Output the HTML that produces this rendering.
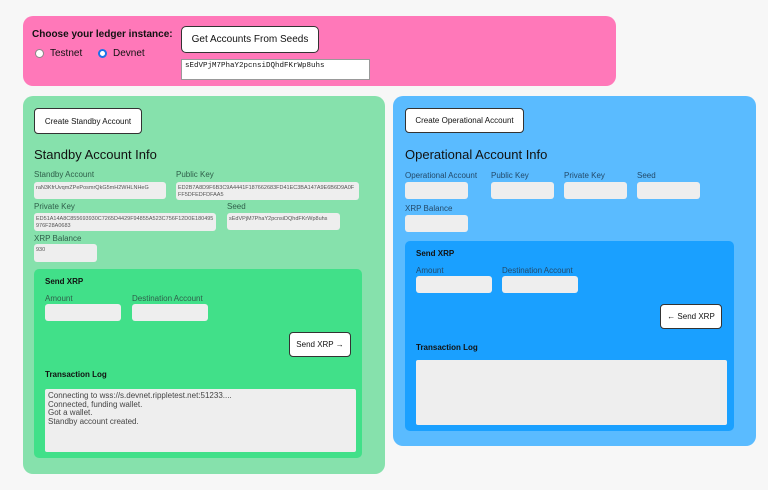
<!DOCTYPE html>
<html><head><style>
*{box-sizing:border-box;margin:0;padding:0}
body{width:768px;height:490px;background:#f7f7f7;font-family:"Liberation Sans",sans-serif;position:relative;overflow:hidden;color:#111}
div,span,button,textarea{position:absolute}
.p{border-radius:10px}
.btn{background:#fff;border:1.5px solid #333;border-radius:4px;font-size:8px;color:#111;display:flex;align-items:center;justify-content:center}
.lb{font-size:8px;color:#2f5f4a}
.lbb{font-size:8px;color:#234a6a}
.in{background:#eee;border-radius:3px;font-size:5.5px;color:#555;padding:3px 2px;line-height:7px;overflow:hidden;word-break:break-all}
h2{position:absolute;font-size:13px;font-weight:normal;color:#111}
.t{font-size:8px;font-weight:bold;color:#111}
.ta{background:#eee;border-radius:2px;font-size:8px;color:#444;padding:3px 3px;line-height:8.5px}
</style></head><body>
<div class="p" style="left:23px;top:16px;width:593px;height:70px;background:#ff78b9"></div>
<span style="left:32px;top:29px;font-size:10px;font-weight:bold">Choose your ledger instance:</span>
<span style="left:35px;top:49px;width:9px;height:9px;border-radius:50%;background:#fff;border:1px solid #888"></span>
<span style="left:50px;top:48px;font-size:10px">Testnet</span>
<span style="left:98px;top:49px;width:9px;height:9px;border-radius:50%;background:#fff;border:2.5px solid #1a73e8"></span>
<span style="left:113px;top:48px;font-size:10px">Devnet</span>
<div class="btn" style="left:181px;top:26px;width:138px;height:27px;font-size:10px;border-radius:5px">Get Accounts From Seeds</div>
<div style="left:181px;top:59px;width:189px;height:21px;background:#fff;border:1px solid #999;font-family:'Liberation Mono',monospace;font-size:7.5px;padding:2px 3px">sEdVPjM7PhaY2pcnsiDQhdFKrWp8uhs</div>

<div class="p" style="left:23px;top:96px;width:362px;height:378px;background:#86e1ac"></div>
<div class="btn" style="left:34px;top:108px;width:108px;height:26px">Create Standby Account</div>
<h2 style="left:34px;top:147px">Standby Account Info</h2>
<span class="lb" style="left:34px;top:170px">Standby Account</span>
<div class="in" style="left:34px;top:182px;width:132px;height:17px">raN3KfrUvqmZPePosmrQkG5mH2WHLNHeG</div>
<span class="lb" style="left:176px;top:170px">Public Key</span>
<div class="in" style="left:176px;top:182px;width:183px;height:18px">ED2B7A8D9F6B3C9A4441F187662683FD41EC3BA147A9E6B6D9A0FFF5DFEDFDFAA5</div>
<span class="lb" style="left:34px;top:202px">Private Key</span>
<div class="in" style="left:34px;top:213px;width:182px;height:18px">ED51A14A8C855693930C7265D4429F94855A523C756F12D0E180495976F28A0683</div>
<span class="lb" style="left:227px;top:202px">Seed</span>
<div class="in" style="left:227px;top:213px;width:113px;height:17px">sEdVPjM7PhaY2pcnsiDQhdFKrWp8uhs</div>
<span class="lb" style="left:34px;top:234px">XRP Balance</span>
<div class="in" style="left:34px;top:244px;width:63px;height:18px">930</div>
<div class="p" style="left:34px;top:269px;width:328px;height:189px;background:#41e089;border-radius:5px"></div>
<span class="t" style="left:45px;top:277px">Send XRP</span>
<span class="lb" style="left:45px;top:294px">Amount</span>
<div class="in" style="left:45px;top:304px;width:76px;height:17px"></div>
<span class="lb" style="left:132px;top:294px">Destination Account</span>
<div class="in" style="left:132px;top:304px;width:76px;height:17px"></div>
<div class="btn" style="left:289px;top:332px;width:62px;height:25px">Send XRP →</div>
<span class="t" style="left:45px;top:370px">Transaction Log</span>
<div class="ta" style="left:45px;top:389px;width:311px;height:63px">Connecting to wss://s.devnet.rippletest.net:51233....<br>Connected, funding wallet.<br>Got a wallet.<br>Standby account created.</div>

<div class="p" style="left:393px;top:96px;width:363px;height:350px;background:#5abbff"></div>
<div class="btn" style="left:405px;top:108px;width:119px;height:25px">Create Operational Account</div>
<h2 style="left:405px;top:147px">Operational Account Info</h2>
<span class="lbb" style="left:405px;top:171px">Operational Account</span>
<div class="in" style="left:405px;top:182px;width:63px;height:17px"></div>
<span class="lbb" style="left:491px;top:171px">Public Key</span>
<div class="in" style="left:491px;top:182px;width:63px;height:17px"></div>
<span class="lbb" style="left:564px;top:171px">Private Key</span>
<div class="in" style="left:564px;top:182px;width:63px;height:17px"></div>
<span class="lbb" style="left:637px;top:171px">Seed</span>
<div class="in" style="left:637px;top:182px;width:63px;height:17px"></div>
<span class="lbb" style="left:405px;top:204px">XRP Balance</span>
<div class="in" style="left:405px;top:215px;width:63px;height:17px"></div>
<div class="p" style="left:405px;top:241px;width:329px;height:190px;background:#1aa0ff;border-radius:5px"></div>
<span class="t" style="left:416px;top:249px">Send XRP</span>
<span class="lbb" style="left:416px;top:266px">Amount</span>
<div class="in" style="left:416px;top:276px;width:76px;height:17px"></div>
<span class="lbb" style="left:502px;top:266px">Destination Account</span>
<div class="in" style="left:502px;top:276px;width:76px;height:17px"></div>
<div class="btn" style="left:660px;top:304px;width:62px;height:25px">← Send XRP</div>
<span class="t" style="left:416px;top:343px">Transaction Log</span>
<div class="ta" style="left:416px;top:360px;width:311px;height:65px"></div>
</body></html>
